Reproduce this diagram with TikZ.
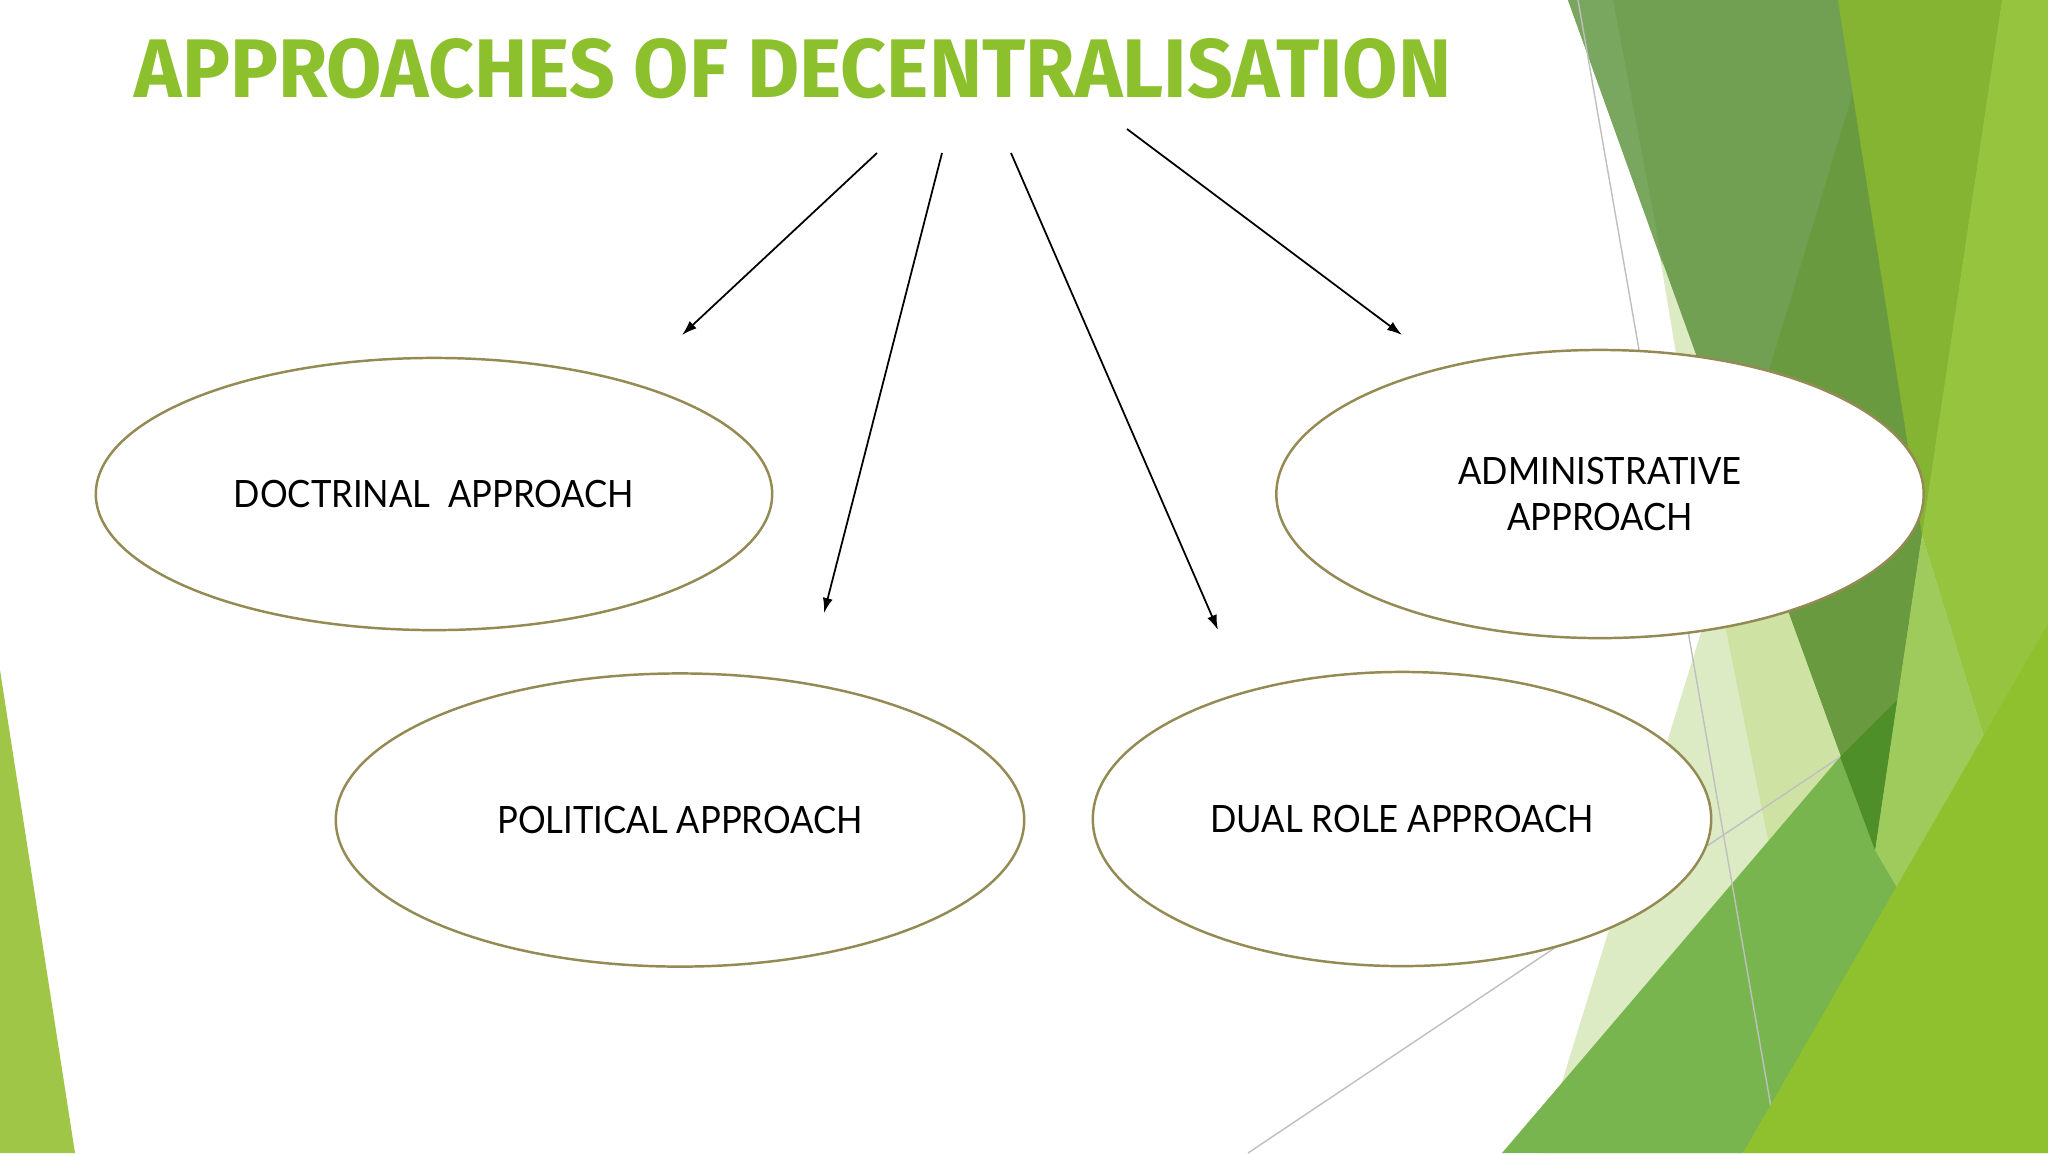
\documentclass[tikz,border=0pt]{standalone}
\usepackage{fontspec}
\usetikzlibrary{shapes.geometric,arrows.meta}

\newfontfamily\labelfont[FakeStretch=0.92]{Lato}
\newfontfamily\titlefont{Fira Sans}

\definecolor{titlegreen}{RGB}{140,193,45}
\definecolor{ovalline}{RGB}{148,138,84}
\definecolor{facetpale}{RGB}{221,235,196}
\definecolor{facetpaletwo}{RGB}{206,227,163}
\definecolor{facetmuted}{RGB}{114,160,82}
\definecolor{facetstrip}{RGB}{122,167,96}
\definecolor{facetdark}{RGB}{106,154,64}
\definecolor{facetbright}{RGB}{132,180,50}
\definecolor{facetlight}{RGB}{151,196,62}
\definecolor{facetmid}{RGB}{158,203,92}
\definecolor{facetgreen}{RGB}{121,181,78}
\definecolor{facetdeep}{RGB}{79,143,42}
\definecolor{facetbig}{RGB}{143,192,46}
\definecolor{facetleft}{RGB}{160,198,72}
\definecolor{facetgray}{RGB}{191,191,191}

\begin{document}
\begin{tikzpicture}
                                [
                                    x=0.01cm, y=-0.01cm,
                                    oval/.style = {draw=ovalline, fill=white, shape=ellipse, line width=0.7pt, inner sep=0pt, align=center, font=\labelfont\fontsize{10.7}{13.1}\selectfont},
                                    arr/.style = {-{Latex[length=0.15cm,width=0.1cm]}, line width=0.5pt},
                                    thinline/.style = {draw=facetgray, line width=0.4pt},
                                ]

                                \fill[white] (0,0) rectangle (2048,1153);
                                \useasboundingbox (0,0) rectangle (2048,1153);

                                \fill[facetleft] (0,670) -- (75,1153) -- (0,1153) -- cycle;

                                \fill[facetpale] (1617,0) -- (1715,587) -- (1540,1153) -- (2048,1153) -- (2048,0) -- cycle;
                                \fill[facetpaletwo] (1881,0) -- (1712,560) -- (1780,900) -- (2048,900) -- (2048,0) -- cycle;
                                \fill[facetmuted] (1568,0) -- (2002,0) -- (1875,850) -- cycle;
                                \fill[facetstrip] (1568,0) -- (1613,0) -- (1663,265) -- cycle;
                                \fill[facetdark] (1881,0) -- (2002,0) -- (1875,850) -- (1738,473) -- cycle;
                                \fill[facetbright] (1838,0) -- (2002,0) -- (1922,535) -- cycle;
                                \fill[facetlight] (2002,0) -- (2048,0) -- (2048,700) -- (1990,757) -- (1922,535) -- cycle;
                                \fill[facetmid] (1922,535) -- (1990,757) -- (1910,910) -- (1875,850) -- cycle;
                                \fill[facetgreen] (1502,1153) -- (1840,757) -- (1875,850) -- (1910,910) -- (1743,1153) -- cycle;

                                \coordinate (g0) at (1578,0);
                                \coordinate (g1) at (1779,1153);
                                \coordinate (g2) at (1248,1153);
                                \coordinate (g3) at (1840,757);
                                \draw[thinline] (g0) -- (g1);
                                \draw[thinline] (g2) -- (g3);

                                \fill[facetdeep] (1840,757) -- (1897,700) -- (1875,850) -- cycle;
                                \fill[facetbig] (1743,1153) -- (2048,624) -- (2048,1153) -- cycle;

                                \node[anchor=base west, inner sep=0pt, text=titlegreen] (title) at (134,97)
                                    {\resizebox{13.16cm}{0.59cm}{\titlefont\bfseries APPROACHES OF DECENTRALISATION}};

                                \node[oval, minimum width=6.76cm, minimum height=2.72cm] (doctrinal) at (434,494) {DOCTRINAL~~APPROACH};
                                \node[oval, minimum width=6.88cm, minimum height=2.93cm] (political) at (680,820) {POLITICAL APPROACH};
                                \node[oval, minimum width=6.18cm, minimum height=2.94cm] (dualrole) at (1402,819) {DUAL ROLE APPROACH};
                                \node[oval, minimum width=6.47cm, minimum height=2.88cm] (administrative) at (1600,494) {ADMINISTRATIVE\\APPROACH};

                                \coordinate (s0) at (877,153);
                                \coordinate (s1) at (942,153);
                                \coordinate (s2) at (1011,153);
                                \coordinate (s3) at (1127,129);

                                \coordinate (e0) at (682,335);
                                \coordinate (e1) at (824,613);
                                \coordinate (e2) at (1218,630);
                                \coordinate (e3) at (1402,335);

                                \draw [arr] (s0) -- (e0);
                                \draw [arr] (s1) -- (e1);
                                \draw [arr] (s2) -- (e2);
                                \draw [arr] (s3) -- (e3);
                            \end{tikzpicture}
\end{document}
